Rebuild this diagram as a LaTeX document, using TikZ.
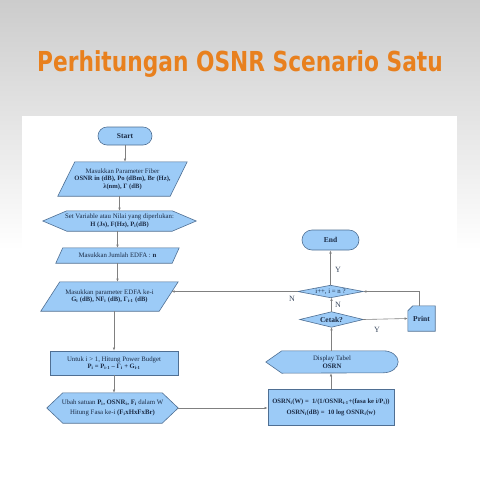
\documentclass[tikz,border=0pt]{standalone}
\usepackage{fontspec}
\setmainfont{Liberation Serif}
\newfontfamily\titlefont{DejaVu Sans}
\usetikzlibrary{arrows.meta}
\pgfdeclarelayer{bg}
\pgfsetlayers{bg,main}
\definecolor{boxfill}{RGB}{156,203,247}
\definecolor{boxline}{RGB}{79,111,147}
\definecolor{txt}{RGB}{27,43,69}
\definecolor{conncol}{RGB}{128,128,128}
\definecolor{ttl}{RGB}{232,128,30}
\begin{document}
\begin{tikzpicture}[x=1pt,y=-1pt,
  lbl/.style={text=txt, align=center, inner sep=0pt, font=\fontsize{6.8}{7.6}\selectfont},
  shp/.style={draw=boxline, fill=boxfill, line width=0.6pt},
  conn/.style={draw=conncol, line width=0.6pt, -{Latex[length=3.2pt,width=2.6pt]}},
  yn/.style={text=txt!85, font=\fontsize{8}{9}\selectfont, inner sep=0pt}]
\useasboundingbox (0,0) rectangle (480,480);
\begin{pgfonlayer}{bg}
\fill[white] (0,0) rectangle (480,480);
\shade[top color=gray!40, bottom color=white] (0,0) rectangle (480,250);
\fill[white] (22,116) rectangle (457,480);
\end{pgfonlayer}

\node[text=ttl, font=\titlefont\bfseries\fontsize{27.5}{30}\selectfont, anchor=base, inner sep=0pt] (title) at (240,71) {\scalebox{0.79}[1]{Perhitungan OSNR Scenario Satu}};

% left column
\node[lbl, shp, rounded corners=9pt, minimum width=54pt, minimum height=18pt, font=\bfseries\fontsize{7.5}{9}\selectfont] (start) at (125,136) {Start};
\node[lbl, minimum width=129pt, minimum height=34pt] (param) at (122.5,179) {Masukkan Parameter Fiber\\ \textbf{\fontsize{6.6}{7.6}\selectfont OSNR in (dB), Po (dBm), Br (Hz),}\\ \textbf{\fontsize{6.6}{7.6}\selectfont λ(nm), Γ (dB)}};
\node[lbl, minimum width=153pt, minimum height=20pt] (setvar) at (119.5,221) {Set Variable atau Nilai yang diperlukan:\\ \textbf{\fontsize{6.6}{7.6}\selectfont H (Js), F(Hz), P\textsubscript{i}(dB)}};
\node[lbl, minimum width=123pt, minimum height=15pt] (jumlah) at (117.5,255.5) {Masukkan Jumlah EDFA : \textbf{n}};
\node[lbl, minimum width=137pt, minimum height=29pt] (edfa) at (109.5,296.5) {Masukkan parameter EDFA ke-i\\ \textbf{\fontsize{6.6}{7.6}\selectfont G\textsubscript{i} (dB), NF\textsubscript{i} (dB), Γ\textsubscript{i-1} (dB)}};
\node[lbl, shp, minimum width=128pt, minimum height=24pt] (untuk) at (114,363) {Untuk i > 1, Hitung Power Budget\\ \textbf{\fontsize{6.6}{7.6}\selectfont P\textsubscript{i} = P\textsubscript{i-1} – Γ\textsubscript{i} + G\textsubscript{i-1}}};
\node[lbl, minimum width=131pt, minimum height=30pt, font=\fontsize{6.8}{10}\selectfont] (ubah) at (112.5,408) {Ubah satuan \textbf{P\textsubscript{i}, OSNR\textsubscript{i}, F\textsubscript{i}} dalam W\\ Hitung Fasa ke-i \textbf{(F\textsubscript{i}xHxFxBr)}};

% right column
\node[lbl, shp, minimum width=126pt, minimum height=36pt, font=\bfseries\fontsize{6.6}{11}\selectfont] (osrn) at (331,407) {OSRN\textsubscript{i}(W) = \ 1/(1/OSNR\textsubscript{i-1}+(fasa ke i/P\textsubscript{i}))\\ OSRN\textsubscript{i}(dB) = \ 10 log OSNR\textsubscript{i}(w)};
\node[lbl, minimum width=132pt, minimum height=22pt] (disp) at (332,362) {Display Tabel\\ \textbf{OSRN}};
\node[lbl, minimum width=63pt, minimum height=15pt, font=\bfseries\fontsize{7.5}{9}\selectfont] (cetak) at (331.5,319.5) {Cetak?};
\node[lbl, minimum width=65pt, minimum height=12pt] (dec) at (330.5,291.5) {i++, i = n ?};
\node[lbl, minimum width=27pt, minimum height=25pt, font=\bfseries\fontsize{7.5}{9}\selectfont] (print) at (421.5,318.5) {Print};
\node[lbl, shp, rounded corners=10pt, minimum width=57pt, minimum height=20pt, font=\bfseries\fontsize{7.5}{9}\selectfont] (end) at (330.5,240) {End};

\begin{pgfonlayer}{bg}
\path[shp] ([xshift=17pt]param.north west) -- (param.north east) -- ([xshift=-17pt]param.south east) -- (param.south west) -- cycle;
\path[shp] (setvar.west) -- ([xshift=24pt]setvar.north west) -- ([xshift=-24pt]setvar.north east) -- (setvar.east) -- ([xshift=-24pt]setvar.south east) -- ([xshift=24pt]setvar.south west) -- cycle;
\path[shp] ([xshift=7pt]jumlah.north west) -- (jumlah.north east) -- ([xshift=-7pt]jumlah.south east) -- (jumlah.south west) -- cycle;
\path[shp] ([xshift=19pt]edfa.north west) -- (edfa.north east) -- ([xshift=-19pt]edfa.south east) -- (edfa.south west) -- cycle;
\path[shp] (ubah.west) -- ([xshift=16pt]ubah.north west) -- ([xshift=-16pt]ubah.north east) -- (ubah.east) -- ([xshift=-16pt]ubah.south east) -- ([xshift=16pt]ubah.south west) -- cycle;
\path[shp] (disp.west) -- ([xshift=16pt]disp.north west) -- ([xshift=-15pt]disp.north east) arc[start angle=90, end angle=-90, x radius=15pt, y radius=11pt] -- ([xshift=16pt]disp.south west) -- cycle;
\path[shp] (cetak.west) -- (cetak.north) -- (cetak.east) -- (cetak.south) -- cycle;
\path[shp] (dec.west) -- (dec.north) -- (dec.east) -- (dec.south) -- cycle;
\path[shp] (print.south west) -- ([yshift=-5pt]print.north west) -- ([xshift=5pt]print.north west) -- (print.north east) -- (print.south east) -- cycle;
\end{pgfonlayer}

\coordinate (edfaIn) at (171.5,291.5);

% connectors
\draw[conn] (start.south) -- (start.south |- param.north);
\draw[conn] (param.south -| setvar.north) -- (setvar.north);
\draw[conn] (setvar.south -| jumlah.north) -- (jumlah.north);
\draw[conn] (jumlah.south) -- (jumlah.south |- edfa.north);
\draw[conn] (edfa.south -| untuk.north) -- (untuk.north);
\draw[conn] (untuk.south) -- (untuk.south |- ubah.north);
\draw[conn] (ubah.east) -- (ubah.east -| osrn.west);
\draw[conn] (osrn.north) -- (osrn.north |- disp.south);
\draw[conn] (disp.north -| cetak.south) -- (cetak.south);
\draw[conn] (cetak.north) -- (cetak.north |- dec.south);
\draw[conn] (cetak.east) -- (print.west);
\draw[conn] ([xshift=-2pt]print.north) |- (dec.east);
\draw[conn] (dec.north) -- (dec.north |- end.south);
\draw[conn] (dec.west) -- (edfaIn);

% labels
\node[yn] (lY1) at (338,270) {Y};
\node[yn] (lN1) at (338,305) {N};
\node[yn] (lY2) at (377,330) {Y};
\node[yn] (lN2) at (292,299) {N};
\end{tikzpicture}
\end{document}
